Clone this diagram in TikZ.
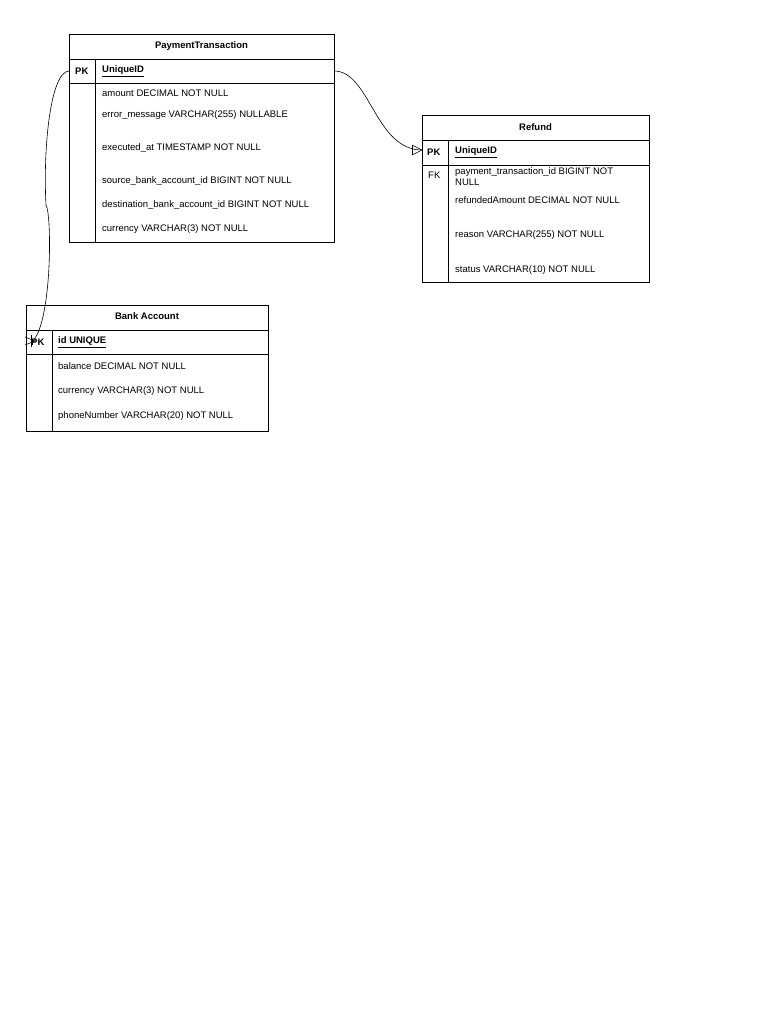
\documentclass[tikz,border=0pt]{standalone}
\usepackage{fontspec}
\setmainfont{Liberation Sans}
\begin{document}
\begin{tikzpicture}[x=1pt,y=-1pt,
 box/.style={draw,line width=0.8pt,inner sep=0pt,anchor=north west},
 txt/.style={anchor=west,inner sep=0pt,font=\fontsize{9.5}{11}\selectfont},
 hdr/.style={inner sep=0pt,font=\bfseries\fontsize{9.5}{11}\selectfont},
 conn/.style={line width=0.6pt}]
\useasboundingbox (0,0) rectangle (768,1024);
% PaymentTransaction
\node[box,minimum width=265pt,minimum height=208pt] (pt) at (69,34) {};
\draw[line width=0.8pt] (69,59) -- (334,59) (69,83) -- (334,83) (95,59) -- (95,242);
\node[hdr] (pth) at (201.5,46.5) {PaymentTransaction};
\node[hdr,anchor=west] (ptpk) at (75,71) {PK};
\node[hdr,anchor=west] (ptid) at (102,71) {\underline{UniqueID}};
\node[txt] (p1) at (102,93) {amount DECIMAL NOT NULL};
\node[txt] (p2) at (102,115) {error\_message VARCHAR(255) NULLABLE};
\node[txt] (p3) at (102,148) {executed\_at TIMESTAMP NOT NULL};
\node[txt] (p4) at (102,181) {source\_bank\_account\_id BIGINT NOT NULL};
\node[txt] (p5) at (102,205) {destination\_bank\_account\_id BIGINT NOT NULL};
\node[txt] (p6) at (102,229) {currency VARCHAR(3) NOT NULL};
% Refund
\node[box,minimum width=227pt,minimum height=167pt] (rf) at (422,115) {};
\draw[line width=0.8pt] (422,140) -- (649,140) (422,165) -- (649,165) (448,140) -- (448,282);
\node[hdr] (rfh) at (535.5,127.5) {Refund};
\node[hdr,anchor=west] (rfpk) at (427,152) {PK};
\node[hdr,anchor=west] (rfid) at (455,152) {\underline{UniqueID}};
\node[txt] (rffk) at (428,175) {FK};
\node[txt,anchor=north west,align=left] (r1) at (455,167) {payment\_transaction\_id BIGINT NOT\\NULL};
\node[txt] (r2) at (455,200) {refundedAmount DECIMAL NOT NULL};
\node[txt] (r3) at (455,235) {reason VARCHAR(255) NOT NULL};
\node[txt] (r4) at (455,270) {status VARCHAR(10) NOT NULL};
% Bank Account
\node[box,minimum width=242pt,minimum height=126pt] (ba) at (26,305) {};
\draw[line width=0.8pt] (26,330) -- (268,330) (26,354) -- (268,354) (52,330) -- (52,431);
\node[hdr] (bah) at (147,316.5) {Bank Account};
\node[hdr,anchor=west] (bapk) at (31,342) {PK};
\node[hdr,anchor=west] (baid) at (58,342) {\underline{id UNIQUE}};
\node[txt] (b1) at (58,366) {balance DECIMAL NOT NULL};
\node[txt] (b2) at (58,391) {currency VARCHAR(3) NOT NULL};
\node[txt] (b3) at (58,416) {phoneNumber VARCHAR(20) NOT NULL};
% connectors
\coordinate (c1) at (334,71);
\coordinate (c2) at (422,150);
\draw[conn] (c1) .. controls (370,71) and (375,150) .. (c2);
\draw[conn] (412,145) -- (422,150) -- (412,155);
\draw[conn] (412,145) -- (412,155);
\coordinate (c3) at (69,71);
\coordinate (c4) at (33,341);
\draw[conn] (c3) .. controls (50,72) and (43,150) .. (46,205) .. controls (52,215) and (52,320) .. (c4);
\draw[conn] (25,337) -- (35,341) -- (25,345);
\draw[conn] (31,335) -- (31,347);
\end{tikzpicture}
\end{document}
